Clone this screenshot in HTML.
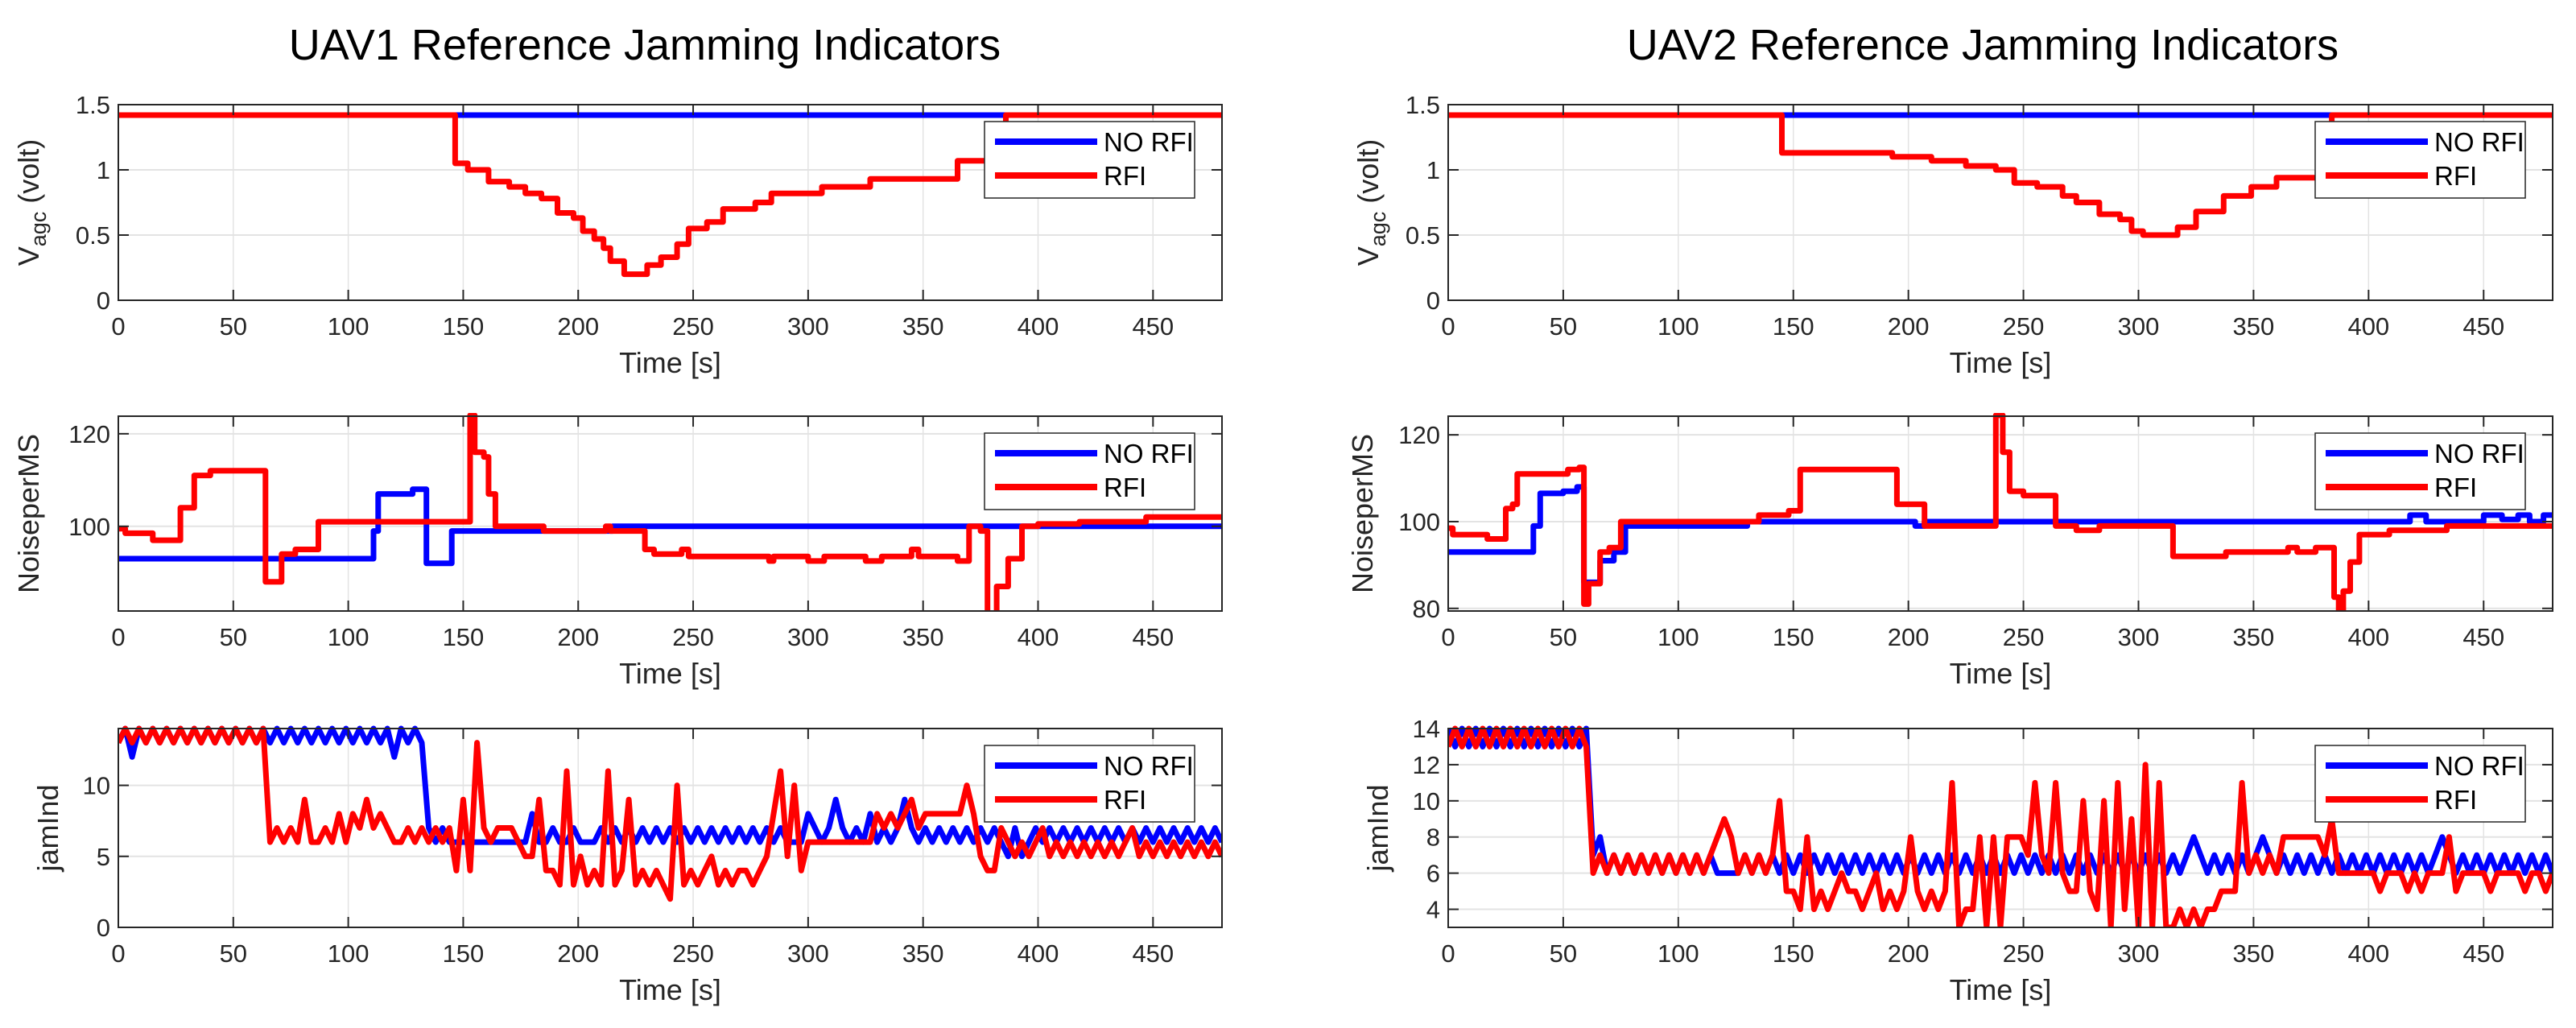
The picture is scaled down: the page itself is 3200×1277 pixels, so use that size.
<!DOCTYPE html>
<html><head><meta charset="utf-8">
<style>
html,body{margin:0;padding:0;background:#fff;}
svg{display:block;font-family:"Liberation Sans",Arial,sans-serif;}
</style></head>
<body>
<svg id="fig" xmlns="http://www.w3.org/2000/svg" width="3200" height="1277" viewBox="0 0 3200 1277">
<rect width="3200" height="1277" fill="#fff"/>
<text x="801" y="74" font-size="54" text-anchor="middle" fill="#000">UAV1 Reference Jamming Indicators</text>
<text x="2463" y="74" font-size="54" text-anchor="middle" fill="#000">UAV2 Reference Jamming Indicators</text>
</svg>
<script>
// ---- data ----
const xTicks = [0,50,100,150,200,250,300,350,400,450];
const seriesNames = ["NO RFI","RFI"];
// UAV1 Vagc (step series)
const u1VagcBlueT = [0,480];
const u1VagcBlueV = [1.42,1.42];
const u1VagcRedT = [0,146.5,152,161,170,177,184,191,198,202,207,211,214,220,230,236,243,248,256,263,277,284,306,327,365,386,480];
const u1VagcRedV = [1.42,1.05,1.0,0.91,0.87,0.82,0.78,0.67,0.63,0.53,0.47,0.4,0.3,0.2,0.27,0.33,0.43,0.55,0.6,0.7,0.75,0.82,0.87,0.93,1.07,1.42,1.42];
// UAV2 Vagc
const u2VagcBlueT = [0,480];
const u2VagcBlueV = [1.42,1.42];
const u2VagcRedT = [0,145,193,210,225,238,246,256,267,273,283,292,297,302,317,325,337,349,360,384,480];
const u2VagcRedV = [1.42,1.13,1.1,1.07,1.03,1.0,0.9,0.87,0.8,0.75,0.66,0.62,0.53,0.5,0.56,0.68,0.8,0.87,0.94,1.42,1.42];
// UAV1 NoiseperMS
const u1NoiseBlueT = [0,111,113,128,134,145,215,480];
const u1NoiseBlueV = [93,99,107,108,92,99,100,100];
const u1NoiseRedT = [0,3,15,27,33,40,64,71,77,87,153,155,159,161,164,185,212,214,229,233,245,248,283,285,300,307,325,332,345,348,365,370,375,378,382,387,393,400,418,447,480];
const u1NoiseRedV = [99.5,98.5,97,104,111,112,88,94,95,101,124,116,115,107,100,99,100,99,95,94,95,93.5,92.5,93.5,92.5,93.5,92.5,93.5,95,93.5,92.5,100,99,81,87,93,100,100.5,101,102,102];
// UAV2 NoiseperMS
const u2NoiseBlueT = [0,37,40,50,56,59,66,72,77,130,203,207,418,425,450,458,465,470,476,480];
const u2NoiseBlueV = [93,99,106.5,107,108,86,91,93,99,100,99,100,101.5,100,101.5,100.5,101.5,100,101.5,101.5];
const u2NoiseRedT = [0,2,17,25,28,30,52,57,59,61,66,70,75,135,148,153,195,207,238,241,244,250,264,273,283,315,338,365,369,377,385,387,389,392,396,409,434,480];
const u2NoiseRedV = [98.5,97,96,103,104,111,112,112.5,81,85.7,93,94,100,101.5,102.5,112,104,99,124.5,116,107,106,99,98,99,92,93,94,93,94,82.6,78.7,84,90.7,97,98,99,99];
// jamInd sampled every 3 s
const jamStep = 3;
const u1JamBlue = [13,14,12,14,13,14,13,14,13,14, 13,14,13,14,13,14,13,14,13,14, 13,14,13,14,13,14,13,14,13,14, 13,14,13,14,13,14,13,14,13,14, 12,14,13,14,13,7,
6,7,6,6,6,6,6,6,6,6, 6,6,6,6,8,6,6,7,6,6, 7,6,6,6,7,6,7,6,7,6, 7,6,7,6,7,6,7,6,7,6, 7,6,7,6,7,6,7,6,7,6, 7,6,6,6,8,7,6,7,9,7, 6,7,6,8,6,7,6,7,9,7, 6,7,6,7,6,7,6,7,6,7, 6,7,6,5,7,5,6,7,6,7, 6,7,6,7,6,7,6,7,6,7, 6,7,6,7,6,7,6,7,6,7, 6,7,6,7,6];
const u1JamRed = [13,14,13,14,13,14,13,14,13,14, 13,14,13,14,13,14,13,14,13,14, 13,14,
6,7,6,7,6,9,6,6,7,6, 8,6,8,7,9,7,8,7,6,6, 7,6,7,6,7,6,7,4,9,4, 13,7,6,7,7,7,6,5,5,9, 4,4,3,11,3,5,3,4,3,11, 3,4,9,3,4,3,4,3,2,10, 3,4,3,4,5,3,4,3,4,4, 3,4,5,8,11,5,10,4,6,6, 6,6,6,6,6,6,6,6,8,7, 8,7,8,9,7,8,8,8,8,8, 8,10,8,5,4,4,7,6,5,6, 5,6,7,5,6,5,6,5,6,5, 6,5,6,5,6,7,5,6,5,6, 5,6,5,6,5,6,5,6,5];
const u2JamBlue = [14,13,14,13,14,13,14,13,14,13, 14,13,14,13,14,13,14,13,14,13, 14,7,8,6,7,6,7,6,7,6, 7,6,7,6,7,6,7,6,7,6, 6,6,6,7,6,7,6,7,6,7, 6,7,6,7,6,7,6,7,6,7, 6,7,6,7,6,7,6,7,6,7, 6,7,6,7,6,7,6,7,6,7, 6,7,6,7,6,7,6,7,6,7, 6,7,6,7,6,7,6,7,6,7, 6,7,6,7,6,7,6,7,8,7, 6,7,6,7,6,7,6,7,8,7, 6,7,6,7,6,7,6,7,6,7, 6,7,6,7,6,7,6,7,6,7, 6,7,6,7,8,7,6,7,6,7, 6,7,6,7,6,7,6,7,6,7, 6];
const u2JamRed = [13,14,13,14,13,14,13,14,13,14, 13,14,13,14,13,14,13,14,13,14, 13,
6,7,6,7,6,7,6,7,6,7, 6,7,6,7,6,7,6,7,8,9, 8,6,7,6,7,6,7,10,5,5, 4,8,4,5,4,5,6,5,5,4, 5,6,4,5,4,5,8,5,4,5, 4,5,11,3,4,4,8,3,8,3, 8,8,8,7,11,7,6,11,6,5, 5,10,5,4,10,3,11,4,9,3, 12,3,11,3,3,4,3,4,3,4, 4,5,5,5,11,6,7,6,7,6, 8,8,8,8,8,8,7,9,6,6, 6,6,6,6,5,6,6,6,5,6, 5,6,6,6,8,5,6,6,6,6, 5,6,6,6,6,5,6,6,5,6];

// ---- layout ----
const NS = "http://www.w3.org/2000/svg";
const svg = document.getElementById('fig');
const panels = [{x0:147,x1:1518},{x0:1799,x1:3171}];
const rows = [{y0:130,y1:373},{y0:517,y1:759},{y0:905,y1:1152}];
const BLUE = "#0000ff", RED = "#ff0000";

function mk(tag, attrs, parent){
  const e = document.createElementNS(NS, tag);
  for (const k in attrs) e.setAttribute(k, attrs[k]);
  (parent||svg).appendChild(e);
  return e;
}
function stepPts(T, V, sx, sy){
  let p = [];
  for (let i=0;i<T.length;i++){
    if (i>0) p.push(sx(T[i]).toFixed(1)+","+sy(V[i-1]).toFixed(1));
    p.push(sx(T[i]).toFixed(1)+","+sy(V[i]).toFixed(1));
  }
  return p.join(" ");
}
function sampPts(V, sx, sy){
  return V.map((v,i)=>sx(i*jamStep).toFixed(1)+","+sy(v).toFixed(1)).join(" ");
}

function axes(pi, ri, ymin, ymax, yTicks, ylabelX, ylabelKind, seriesFn, key){
  const P = panels[pi], R = rows[ri];
  const sx = t => P.x0 + (t/480)*(P.x1-P.x0);
  const sy = v => R.y1 - (v-ymin)/(ymax-ymin)*(R.y1-R.y0);
  const g = mk('g', {});
  
  
  const clipId = 'clip-'+key;
  const cp = mk('clipPath', {id:clipId}, g);
  mk('rect', {x:P.x0, y:R.y0-4, width:P.x1-P.x0, height:R.y1-R.y0+4}, cp);
  // grid
  xTicks.forEach(t=>{
    const l = mk('line', {x1:sx(t), x2:sx(t), y1:R.y0, y2:R.y1, stroke:'#e3e3e3', 'stroke-width':1.5}, g);
    
    
  });
  yTicks.forEach(v=>{
    const l = mk('line', {x1:P.x0, x2:P.x1, y1:sy(v), y2:sy(v), stroke:'#e3e3e3', 'stroke-width':2}, g);
    
    
  });
  // series
  const sg = mk('g', {'clip-path':'url(#'+clipId+')'}, g);
  seriesFn(sg, sx, sy);
  // box
  const box = mk('rect', {x:P.x0, y:R.y0, width:P.x1-P.x0, height:R.y1-R.y0, fill:'none', stroke:'#262626', 'stroke-width':2}, g);
  
  
  // ticks
  xTicks.forEach(t=>{
    mk('line', {x1:sx(t), x2:sx(t), y1:R.y1, y2:R.y1-13, stroke:'#262626', 'stroke-width':2}, g);
    mk('line', {x1:sx(t), x2:sx(t), y1:R.y0, y2:R.y0+13, stroke:'#262626', 'stroke-width':2}, g);
    const tx = mk('text', {x:sx(t), y:R.y1+43, 'font-size':31, 'text-anchor':'middle', fill:'#262626'}, g);
    
    
    tx.textContent = t;
  });
  yTicks.forEach(v=>{
    mk('line', {x1:P.x0, x2:P.x0+13, y1:sy(v), y2:sy(v), stroke:'#262626', 'stroke-width':2}, g);
    mk('line', {x1:P.x1, x2:P.x1-13, y1:sy(v), y2:sy(v), stroke:'#262626', 'stroke-width':2}, g);
    const tx = mk('text', {x:P.x0-10, y:sy(v)+11, 'font-size':31, 'text-anchor':'end', fill:'#262626'}, g);
    
    
    tx.textContent = v;
  });
  // x label
  const xl = mk('text', {x:(P.x0+P.x1)/2, y:R.y1+90, 'font-size':36, 'text-anchor':'middle', fill:'#262626'}, g);
  
  
  xl.textContent = 'Time [s]';
  // y label
  const cy = (R.y0+R.y1)/2;
  const yl = mk('text', {x:ylabelX, y:cy, 'font-size':36, 'text-anchor':'middle', fill:'#262626', transform:'rotate(-90 '+ylabelX+' '+cy+')'}, g);
  
  
  if (ylabelKind === 'vagc'){
    const a = mk('tspan', {}, yl); a.textContent = 'V';
    const b = mk('tspan', {'font-size':27, dy:9}, yl); b.textContent = 'agc';
    const c = mk('tspan', {dy:-9}, yl); c.textContent = ' (volt)';
  } else yl.textContent = ylabelKind;
  // legend
  const lx = P.x1 - 34 - 261, ly = R.y0 + 21;
  const lg = mk('g', {}, g);
  
  
  mk('rect', {x:lx, y:ly, width:261, height:95, fill:'#fff', stroke:'#262626', 'stroke-width':1.5}, lg);
  [[BLUE,25],[RED,67]].forEach((c,i)=>{
    const e = mk('g', {}, lg);
    
    
    mk('line', {x1:lx+13, x2:lx+140, y1:ly+c[1], y2:ly+c[1], stroke:c[0], 'stroke-width':8}, e);
    const t = mk('text', {x:lx+148, y:ly+c[1]+12, 'font-size':33, fill:'#000'}, e);
    t.textContent = seriesNames[i];
  });
}
function line(parent, pts, color, name){
  const p = mk('polyline', {points:pts, fill:'none', stroke:color, 'stroke-width':7, 'stroke-linejoin':'round', 'stroke-linecap':'butt'}, parent);
  
  
}

axes(0,0,0,1.5,[0,0.5,1,1.5],48,'vagc',(g,sx,sy)=>{
  line(g, stepPts(u1VagcBlueT,u1VagcBlueV,sx,sy), BLUE, 'no-rfi-line');
  line(g, stepPts(u1VagcRedT,u1VagcRedV,sx,sy), RED, 'rfi-line');
}, 'uav1-vagc');
axes(1,0,0,1.5,[0,0.5,1,1.5],1712,'vagc',(g,sx,sy)=>{
  line(g, stepPts(u2VagcBlueT,u2VagcBlueV,sx,sy), BLUE, 'no-rfi-line');
  line(g, stepPts(u2VagcRedT,u2VagcRedV,sx,sy), RED, 'rfi-line');
}, 'uav2-vagc');
axes(0,1,81.7,123.8,[100,120],48,'NoiseperMS',(g,sx,sy)=>{
  line(g, stepPts(u1NoiseBlueT,u1NoiseBlueV,sx,sy), BLUE, 'no-rfi-line');
  line(g, stepPts(u1NoiseRedT,u1NoiseRedV,sx,sy), RED, 'rfi-line');
}, 'uav1-noise');
axes(1,1,79.4,124.3,[80,100,120],1705,'NoiseperMS',(g,sx,sy)=>{
  line(g, stepPts(u2NoiseBlueT,u2NoiseBlueV,sx,sy), BLUE, 'no-rfi-line');
  line(g, stepPts(u2NoiseRedT,u2NoiseRedV,sx,sy), RED, 'rfi-line');
}, 'uav2-noise');
axes(0,2,0,14,[0,5,10],72,'jamInd',(g,sx,sy)=>{
  line(g, sampPts(u1JamBlue,sx,sy), BLUE, 'no-rfi-line');
  line(g, sampPts(u1JamRed,sx,sy), RED, 'rfi-line');
}, 'uav1-jamind');
axes(1,2,3,14,[4,6,8,10,12,14],1724,'jamInd',(g,sx,sy)=>{
  line(g, sampPts(u2JamBlue,sx,sy), BLUE, 'no-rfi-line');
  line(g, sampPts(u2JamRed,sx,sy), RED, 'rfi-line');
}, 'uav2-jamind');
</script>
</body></html>
